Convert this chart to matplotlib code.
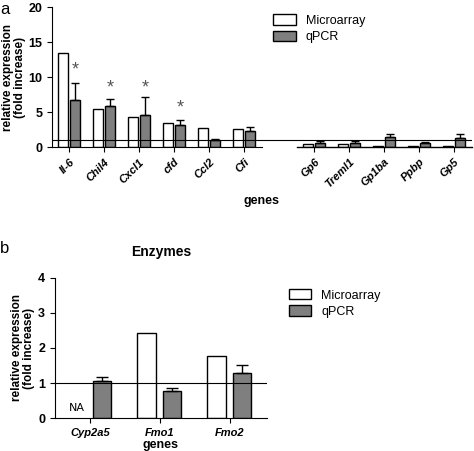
import matplotlib
matplotlib.use("Agg")
import matplotlib.pyplot as plt
from matplotlib.patches import Patch
import numpy as np

plt.rcParams['font.family'] = ['Liberation Sans', 'DejaVu Sans']

genes_a = ["Il-6", "Chil4", "Cxcl1", "cfd", "Ccl2", "Cfi", "Gp6", "Treml1", "Gp1ba", "Ppbp", "Gp5"]
pos_a = [0, 1, 2, 3, 4, 5, 7, 8, 9, 10, 11]
micro_a = [13.5, 5.4, 4.3, 3.4, 2.7, 2.6, 0.5, 0.45, 0.2, 0.15, 0.15]
qpcr_a = [6.7, 5.8, 4.6, 3.1, 1.0, 2.3, 0.6, 0.6, 1.4, 0.55, 1.3]
qpcr_a_err = [2.5, 1.0, 2.5, 0.8, 0.1, 0.6, 0.3, 0.3, 0.5, 0.15, 0.5]
star_genes = ["Il-6", "Chil4", "Cxcl1", "cfd"]
star_y = [11.0, 8.5, 8.5, 5.6]

genes_b = ["Cyp2a5", "Fmo1", "Fmo2"]
micro_b = [np.nan, 2.42, 1.76]
qpcr_b = [1.05, 0.78, 1.28]
qpcr_b_err = [0.12, 0.09, 0.22]

fig = plt.figure(figsize=(4.74, 4.51), dpi=100)
ax = fig.add_axes([0.11, 0.674, 0.885, 0.31])
w = 0.29; off = 0.17
p = np.array(pos_a)
ax.bar(p - off, micro_a, w, color='white', edgecolor='black', lw=1)
ax.bar(p + off, qpcr_a, w, color='#7f7f7f', edgecolor='black', lw=1,
       yerr=[np.zeros(len(qpcr_a)), qpcr_a_err], error_kw=dict(lw=1, capsize=3, capthick=1))
for g, y in zip(star_genes, star_y):
    ax.text(pos_a[genes_a.index(g)] + off, y, "*", ha='center', va='center', fontsize=13, color='#555555')
ax.axhline(1, color='black', lw=0.8)
ax.set_xlim(-0.49, 11.5)
ax.set_ylim(0, 20)
ax.set_yticks([0, 5, 10, 15, 20])
ax.set_xticks(pos_a)
ax.set_xticklabels(genes_a, rotation=45, ha='right', rotation_mode='anchor',
                   fontstyle='italic', fontweight='bold', fontsize=8)
for t in ax.get_yticklabels():
    t.set_fontweight('bold'); t.set_fontsize(9)
ax.spines['top'].set_visible(False); ax.spines['right'].set_visible(False)
ax.spines['bottom'].set_bounds(-0.49, 5.5)
ax.set_ylabel("relative expression\n(fold increase)", fontweight='bold', fontsize=8.5, labelpad=2, linespacing=1.0)
ax.set_xlabel("genes", fontweight='bold', fontsize=9)
ax.plot([6.5, 11.5], [0, 0], color='black', lw=1, clip_on=False)
ax.legend(handles=[Patch(facecolor='white', edgecolor='black', label='Microarray'),
                   Patch(facecolor='#7f7f7f', edgecolor='black', label='qPCR')],
          loc='upper left', bbox_to_anchor=(0.5, 1.03), frameon=False, fontsize=9,
          handlelength=1.8, handleheight=0.9, labelspacing=0.3)
fig.text(0.0, 0.995, "a", fontsize=12, va='top')

ax2 = fig.add_axes([0.116, 0.073, 0.447, 0.311])
q = np.arange(len(genes_b))
ax2.bar(q - 0.19, micro_b, 0.26, color='white', edgecolor='black', lw=1)
ax2.bar(q + 0.17, qpcr_b, 0.26, color='#7f7f7f', edgecolor='black', lw=1,
        yerr=[np.zeros(3), qpcr_b_err], error_kw=dict(lw=1, capsize=4, capthick=1))
ax2.text(-0.19, 0.3, "NA", ha='center', va='center', fontsize=8, fontfamily='DejaVu Sans Condensed')
ax2.axhline(1, color='black', lw=0.8)
ax2.set_xlim(-0.5, 2.53)
ax2.set_ylim(0, 4)
ax2.set_yticks([0, 1, 2, 3, 4])
ax2.set_xticks(q)
ax2.set_xticklabels(genes_b, fontstyle='italic', fontweight='bold', fontsize=8)
for t in ax2.get_yticklabels():
    t.set_fontweight('bold'); t.set_fontsize(9)
ax2.spines['top'].set_visible(False); ax2.spines['right'].set_visible(False)
ax2.set_ylabel("relative expression\n(fold increase)", fontweight='bold', fontsize=8.5, labelpad=2, linespacing=1.0)
ax2.set_xlabel("genes", fontweight='bold', fontsize=9, labelpad=1)
ax2.set_title("Enzymes", fontweight='bold', fontsize=10, pad=16)
ax2.legend(handles=[Patch(facecolor='white', edgecolor='black', label='Microarray'),
                    Patch(facecolor='#7f7f7f', edgecolor='black', label='qPCR')],
           loc='upper left', bbox_to_anchor=(1.05, 1.0), frameon=False, fontsize=9,
           handlelength=1.8, handleheight=0.9, labelspacing=0.3)
fig.text(0.0, 0.465, "b", fontsize=12, va='top')

fig.savefig("out.png", dpi=100)
